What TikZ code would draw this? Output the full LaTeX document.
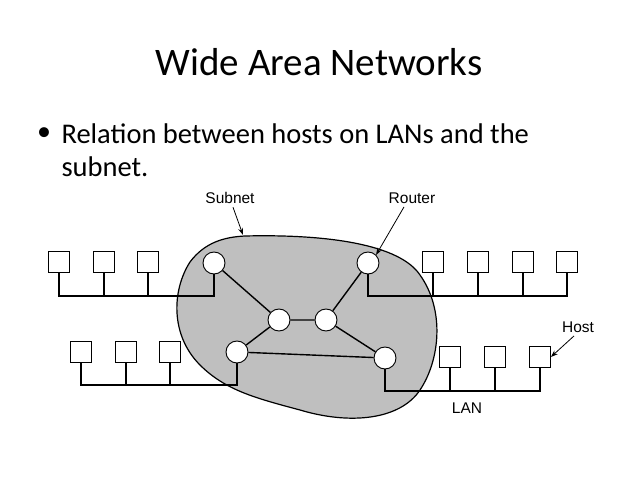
\documentclass[tikz,border=0pt]{standalone}
\usepackage{fontspec}
\setmainfont{Carlito}
\newfontfamily\arial{Liberation Sans}
\usetikzlibrary{arrows.meta}
\begin{document}
\begin{tikzpicture}[x=1pt,y=-1pt,
  host/.style={draw,fill=white,minimum size=21pt,inner sep=0pt,line width=0.8pt},
  router/.style={circle,draw,fill=white,minimum size=22pt,inner sep=0pt,line width=0.9pt},
  wire/.style={line width=1.4pt},
  lbl/.style={font=\arial\fontsize{15.5}{18}\selectfont},
  ptr/.style={line width=0.8pt,-{Stealth[length=7pt,width=5pt]}}]
\useasboundingbox (0,0) rectangle (638,478);
\node (title) at (319,62) {\fontsize{39}{46}\selectfont Wide Area Networks};
\node (bul) at (44,134) {\fontsize{28}{32}\selectfont •};
\node[anchor=west] (b1) at (58,134) {\fontsize{28.5}{32}\selectfont Relation between hosts on LANs and the};
\node[anchor=west] (b2) at (58,167) {\fontsize{28.5}{32}\selectfont subnet.};
% subnet blob
\draw[line width=1.2pt,fill=black!25] (245,236) .. controls (330,234) and (400,245) .. (420,275)
  .. controls (445,310) and (440,360) .. (420,390)
  .. controls (400,420) and (350,425) .. (300,410)
  .. controls (255,398) and (225,390) .. (200,365)
  .. controls (170,335) and (172,290) .. (190,262)
  .. controls (205,242) and (225,237) .. (245,236) -- cycle;
% routers
\node[router] (r1) at (214,263) {};
\node[router] (r2) at (368,263) {};
\node[router] (r3) at (279,320) {};
\node[router] (r4) at (326,320) {};
\node[router] (r5) at (237,352) {};
\node[router] (r6) at (385,358) {};
\draw[wire] (r1)--(r3) (r3)--(r4) (r4)--(r2) (r3)--(r5) (r4)--(r6) (r5)--(r6);
% hosts
\foreach \n/\x in {a/59,b/104,c/148} \node[host] (h\n) at (\x,262) {};
\foreach \n/\x in {d/433,e/478,f/523,g/567} \node[host] (h\n) at (\x,262) {};
\foreach \n/\x in {h/81,i/126,j/170} \node[host] (h\n) at (\x,352) {};
\foreach \n/\x in {k/450,l/495,m/540} \node[host] (h\n) at (\x,357) {};
% LANs
\draw[wire] (ha.south) |- (r1.south |- 0,296) -- (r1.south);
\draw[wire] (hb.south) -- (hb.south |- 0,296);
\draw[wire] (hc.south) -- (hc.south |- 0,296);
\draw[wire] (r2.south) |- (hg.south |- 0,296) -- (hg.south);
\foreach \n in {d,e,f} \draw[wire] (h\n.south) -- (h\n.south |- 0,296);
\draw[wire] (hh.south) |- (r5.south |- 0,385) -- (r5.south);
\foreach \n in {i,j} \draw[wire] (h\n.south) -- (h\n.south |- 0,385);
\draw[wire] (r6.south) |- (hm.south |- 0,391) -- (hm.south);
\foreach \n in {k,l} \draw[wire] (h\n.south) -- (h\n.south |- 0,391);
% labels
\node[lbl] (ls) at (230,198) {Subnet};
\node[lbl] (lr) at (412,198) {Router};
\node[lbl] (lh) at (578,327) {Host};
\node[lbl] (ll) at (467,408) {LAN};
\coordinate (cs) at (243,235);
\draw[ptr] (ls.south) ++(3,0) -- (cs);
\draw[ptr] (lr.south) ++(-8,0) -- (r2.north east);
\draw[ptr] (lh.south) ++(-4,0) -- (hm.east);
\end{tikzpicture}
\end{document}
